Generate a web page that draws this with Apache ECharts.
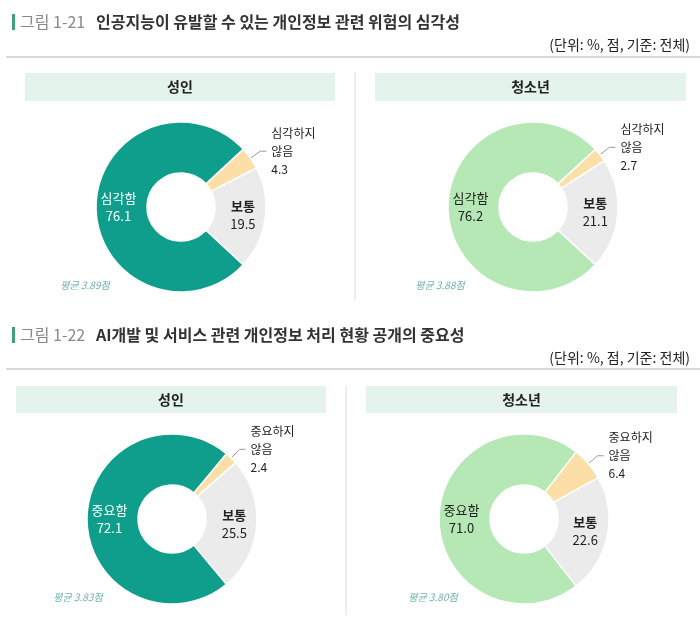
<!DOCTYPE html>
<html><head><meta charset="utf-8">
<script src="https://cdn.jsdelivr.net/npm/echarts@6/dist/echarts.min.js"></script>
<style>html,body{margin:0;background:#fff}#c{width:700px;height:627px}</style>
</head><body><div id="c"></div>
<script>
const FONT = '"Noto Sans CJK KR", sans-serif';
const fig1Title = ['그림 1-21', '인공지능이 유발할 수 있는 개인정보 관련 위험의 심각성'];
const fig2Title = ['그림 1-22', 'AI개발 및 서비스 관련 개인정보 처리 현황 공개의 중요성'];
const unitText = '(단위: %, 점, 기준: 전체)';
const groups = ['성인', '청소년'];
const fig1Cats = ['심각하지\n않음', '보통', '심각함'];
const fig2Cats = ['중요하지\n않음', '보통', '중요함'];
const fig1Adult = [4.3, 19.5, 76.1];
const fig1Youth = [2.7, 21.1, 76.2];
const fig2Adult = [2.4, 25.5, 72.1];
const fig2Youth = [6.4, 22.6, 71.0];
const avgs = ['평균 3.89점', '평균 3.88점', '평균 3.83점', '평균 3.80점'];

const TEAL = '#0f9e8c', LG = '#b6e8b5', GRAY = '#ebebeb', ORANGE = '#fbdfa6';

function pie(cats, vals, center, mainColor, mainTextColor) {
  const total = vals.reduce((a, b) => a + b, 0);
  const mainDeg = vals[2] / total * 360;
  return {
    type: 'pie', center: center, radius: [34, 85], startAngle: 180 - mainDeg / 2,
    clockwise: true, avoidLabelOverlap: false, silent: true,
    itemStyle: { borderColor: '#fff', borderWidth: 1.5 },
    data: cats.map((c, i) => {
      const d = { name: c, value: vals[i] };
      if (i === 0) {
        d.itemStyle = { color: ORANGE };
        d.label = { position: 'outside', color: '#222', fontSize: 12, lineHeight: 18, align: 'center',
          formatter: p => p.name + '\n' + p.value.toFixed(1) };
        d.labelLine = { show: true, length: 12, length2: 6, lineStyle: { color: '#999', width: 1 } };
      } else if (i === 1) {
        d.itemStyle = { color: GRAY };
        d.label = { position: 'inside', color: '#222', fontSize: 13, lineHeight: 18,
          formatter: p => '{b|' + p.name + '}\n' + p.value.toFixed(1), rich: { b: { fontWeight: 'bold', fontSize: 13, color: '#222', fontFamily: FONT } } };
      } else {
        d.itemStyle = { color: mainColor };
        d.label = { position: 'inside', color: mainTextColor, fontSize: 13, lineHeight: 18,
          formatter: p => p.name + '\n' + p.value.toFixed(1) };
      }
      return d;
    })
  };
}

function titleBlock(t, y, lineY) {
  return [
    { type: 'rect', shape: { x: 12, y: y - 8, width: 3, height: 16 }, style: { fill: '#3f9e7c' } },
    { type: 'text', x: 20, y: y, style: { text: t[0], fill: '#888', font: '16px ' + FONT, verticalAlign: 'middle' } },
    { type: 'text', x: 96, y: y, style: { text: t[1], fill: '#333', font: 'bold 16px ' + FONT, verticalAlign: 'middle' } },
    { type: 'text', x: 690, y: y + 23, style: { text: unitText, fill: '#222', font: '14px ' + FONT, align: 'right', verticalAlign: 'middle' } },
    { type: 'line', shape: { x1: 6, y1: lineY, x2: 700, y2: lineY }, style: { stroke: '#ccc', lineWidth: 1.5 } }
  ];
}
function header(x1, x2, y1, y2, txt) {
  return [
    { type: 'rect', shape: { x: x1, y: y1, width: x2 - x1, height: y2 - y1 }, style: { fill: '#e4f4ec' } },
    { type: 'text', x: (x1 + x2) / 2, y: (y1 + y2) / 2, style: { text: txt, fill: '#222', font: 'bold 14px ' + FONT, align: 'center', verticalAlign: 'middle' } }
  ];
}
function avg(x, y, t) {
  return { type: 'text', x: x, y: y, style: { text: t, fill: '#6fb3aa', font: 'italic 10px ' + FONT, align: 'center', verticalAlign: 'middle' } };
}

const graphics = [].concat(
  titleBlock(fig1Title, 22, 57),
  header(25, 335, 73, 101, groups[0]), header(375, 686, 73, 101, groups[1]),
  [{ type: 'line', shape: { x1: 355, y1: 73, x2: 355, y2: 300 }, style: { stroke: '#ddd', lineWidth: 1 } }],
  [avg(85, 285, avgs[0]), avg(440, 285, avgs[1])],
  titleBlock(fig2Title, 335, 369),
  header(16, 326, 386, 413, groups[0]), header(366, 677, 386, 413, groups[1]),
  [{ type: 'line', shape: { x1: 346, y1: 386, x2: 346, y2: 615 }, style: { stroke: '#ddd', lineWidth: 1 } }],
  [avg(78, 597, avgs[2]), avg(433, 597, avgs[3])]
);

const chart = echarts.init(document.getElementById('c'));
chart.setOption({
  animation: false,
  textStyle: { fontFamily: FONT },
  graphic: graphics,
  series: [
    pie(fig1Cats, fig1Adult, [181, 207], TEAL, '#fff'),
    pie(fig1Cats, fig1Youth, [533, 207], LG, '#222'),
    pie(fig2Cats, fig2Adult, [172, 519], TEAL, '#fff'),
    pie(fig2Cats, fig2Youth, [524, 519], LG, '#222')
  ]
});
</script></body></html>
